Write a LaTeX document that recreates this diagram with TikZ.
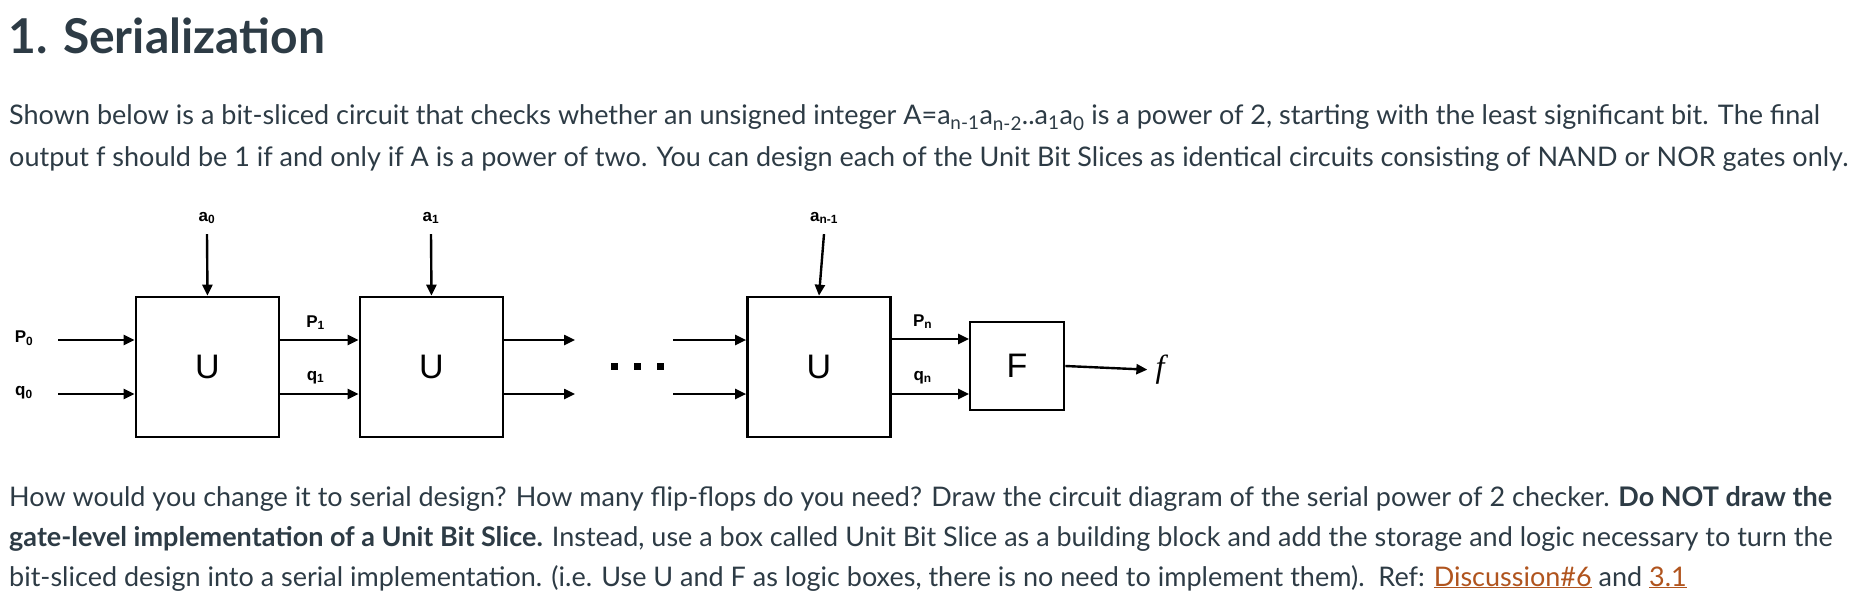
\documentclass[tikz,border=0pt]{standalone}
\usepackage{fontspec}
\setmainfont{Lato}
\newfontfamily\arialf{Liberation Sans}
\newfontfamily\serf{Liberation Serif}
\usetikzlibrary{arrows.meta}
\definecolor{txt}{HTML}{2D3B45}
\definecolor{lnk}{HTML}{B0541E}
\newcommand{\lk}[1]{{\color{lnk}#1}}
\begin{document}
\begin{tikzpicture}[x=1pt,y=-1pt,
  body/.style={anchor=base west,inner sep=0,text=txt,font=\fontsize{27}{30}\selectfont},
  box/.style={draw,line width=2.6pt,minimum width=143pt,minimum height=140pt,inner sep=0,font=\arialf\fontsize{34}{34}\selectfont},
  sig/.style={inner sep=0,font=\arialf\bfseries\fontsize{17}{17}\selectfont},
  arr/.style={line width=2.4pt,-{Triangle[length=11pt,width=10pt]}}]
\useasboundingbox (0,0) rectangle (1868,604);
\node[body,font=\bfseries\fontsize{48}{48}\selectfont] (title) at (8,54) {1. Serialization};
\node[body] (l1) at (9,125) {Shown below is a bit-sliced circuit that checks whether an unsigned integer A=a\textsubscript{n-1}a\textsubscript{n-2}..a\textsubscript{1}a\textsubscript{0} is a power of 2, starting with the least significant bit. The final};
\node[body] (l2) at (9,167) {output f should be 1 if and only if A is a power of two. You can design each of the Unit Bit Slices as identical circuits consisting of NAND or NOR gates only.};
\node[body] (l3) at (9,506) {How would you change it to serial design? How many flip-flops do you need? Draw the circuit diagram of the serial power of 2 checker. \textbf{Do NOT draw the}};
\node[body] (l4) at (9,546) {\textbf{gate-level implementation of a Unit Bit Slice.} Instead, use a box called Unit Bit Slice as a building block and add the storage and logic necessary to turn the};
\node[body] (l5) at (9,586) {bit-sliced design into a serial implementation. (i.e. Use U and F as logic boxes, there is no need to implement them).\ \ Ref: \lk{\underline{Discussion\#6}} and \lk{\underline{3.1}}};

\node[box] (u1) at (207.5,367) {U};
\node[box] (u2) at (431.5,367) {U};
\node[box] (u3) at (819,367) {U};
\node[box,minimum width=94pt,minimum height=88pt] (F) at (1017,366) {F};

\node[sig] (a0) at (207,218) {a\textsubscript{0}};
\node[sig] (a1) at (431,218) {a\textsubscript{1}};
\node[sig] (an) at (824,218) {a\textsubscript{n-1}};
\draw[arr] (a0.south) ++(0,10) -- (u1.north);
\draw[arr] (a1.south) ++(0,10) -- (u2.north);
\draw[arr] (an.south) ++(0,10) -- (u3.north);

\node[sig] (p0) at (24,338) {P\textsubscript{0}};
\node[sig] (q0) at (24,393) {q\textsubscript{0}};
\coordinate (p0s) at (58,340); \coordinate (q0s) at (58,394);
\draw[arr] (p0s) -- (u1.west |- p0s);
\draw[arr] (q0s) -- (u1.west |- q0s);
\draw[arr] (u1.east |- p0s) -- (u2.west |- p0s) node[sig,pos=0.45,above=9pt] (p1) {P\textsubscript{1}};
\draw[arr] (u1.east |- q0s) -- (u2.west |- q0s) node[sig,pos=0.45,above=9pt] (q1) {q\textsubscript{1}};
\coordinate (o1) at (575,340); \coordinate (o2) at (575,394);
\draw[arr] (u2.east |- o1) -- (o1);
\draw[arr] (u2.east |- o2) -- (o2);
\coordinate (i1) at (673,340); \coordinate (i2) at (673,394);
\draw[arr] (i1) -- (u3.west |- i1);
\draw[arr] (i2) -- (u3.west |- i2);
\foreach \x in {614,637,660} \fill (\x-3.5,362.5) rectangle (\x+3.5,369.5);
\coordinate (fp) at (969,339); \coordinate (fq) at (969,394);
\draw[arr] (u3.east |- fp) -- (fp) node[sig,pos=0.4,above=9pt] (pn) {P\textsubscript{n}};
\draw[arr] (u3.east |- fq) -- (fq) node[sig,pos=0.4,above=9pt] (qn) {q\textsubscript{n}};
\node[inner sep=0,font=\serf\itshape\fontsize{32}{32}\selectfont] (f) at (1160,370) {f};
\draw[arr,shorten >=8pt] (F.east) -- (f.west);
\end{tikzpicture}
\end{document}
